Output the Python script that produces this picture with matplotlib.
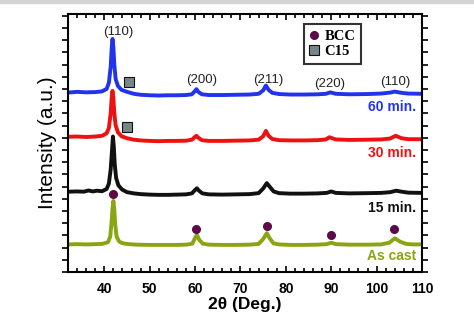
import numpy as np
import matplotlib.pyplot as plt
from matplotlib.lines import Line2D
from matplotlib.ticker import MultipleLocator

# XRD patterns (2theta in deg, intensity offset per sample, arb. units)
x_60 = [32, 34, 36, 38, 39.5, 40.5, 41.0, 41.4, 41.6, 41.8, 42.0, 42.2, 42.5, 43.0,
        43.8, 45.0, 46.5, 48, 50, 52, 54, 56, 58, 59.3, 60.0, 60.3, 60.7, 61.5,
        63, 66, 69, 72, 74, 75.0, 75.6, 76.2, 77.0, 78.5, 81, 84, 87, 88.8, 89.8,
        91, 94, 98, 101, 103, 104, 105.5, 107, 110]
y_60 = [7.35, 7.38, 7.36, 7.37, 7.40, 7.50, 7.75, 8.40, 9.10, 9.55, 9.20, 8.50, 7.90, 7.62,
        7.46, 7.38, 7.30, 7.26, 7.24, 7.23, 7.24, 7.24, 7.25, 7.28, 7.42, 7.49, 7.38, 7.28,
        7.25, 7.25, 7.26, 7.27, 7.30, 7.44, 7.64, 7.46, 7.34, 7.29, 7.27, 7.27, 7.28, 7.30, 7.36,
        7.30, 7.28, 7.29, 7.31, 7.35, 7.39, 7.34, 7.31, 7.30]

x_30 = [32, 34, 36, 38, 39.5, 40.5, 41.0, 41.4, 41.6, 41.8, 42.0, 42.2, 42.5, 43.0,
        43.8, 45.0, 46.5, 48, 50, 52, 54, 56, 58, 59.3, 60.0, 60.3, 60.7, 61.5,
        63, 66, 69, 72, 74, 75.0, 75.6, 76.2, 77.0, 78.5, 81, 84, 87, 88.8, 89.6,
        91, 94, 98, 101, 103, 104.2, 105.5, 107, 110]
y_30 = [5.54, 5.55, 5.53, 5.55, 5.58, 5.68, 5.90, 6.50, 7.10, 7.42, 7.10, 6.50, 6.00, 5.72,
        5.56, 5.48, 5.42, 5.39, 5.37, 5.36, 5.37, 5.37, 5.38, 5.42, 5.54, 5.58, 5.50, 5.40,
        5.37, 5.37, 5.38, 5.39, 5.42, 5.56, 5.78, 5.58, 5.45, 5.40, 5.39, 5.39, 5.40, 5.43, 5.52,
        5.43, 5.41, 5.42, 5.43, 5.47, 5.58, 5.48, 5.44, 5.44]

x_15 = [32, 34, 35.5, 36.5, 37.5, 38.3, 39.5, 40.5, 41.0, 41.4, 41.7, 41.9, 42.1, 42.3,
        42.6, 43.1, 43.9, 45.0, 46.5, 48, 50, 52, 54, 56, 58, 59.3, 60.0, 60.4, 60.8,
        61.6, 63, 66, 69, 72, 74, 75.0, 75.8, 76.5, 77.3, 78.5, 81, 84, 87, 89.0,
        90.0, 91, 94, 98, 101, 103, 104.3, 105.5, 107, 110]
y_15 = [3.29, 3.30, 3.29, 3.34, 3.30, 3.33, 3.31, 3.40, 3.62, 4.20, 5.00, 5.55, 5.10, 4.40,
        3.85, 3.55, 3.38, 3.27, 3.22, 3.19, 3.17, 3.16, 3.16, 3.17, 3.18, 3.22, 3.36, 3.43, 3.34,
        3.22, 3.18, 3.17, 3.18, 3.19, 3.23, 3.42, 3.64, 3.48, 3.30, 3.23, 3.21, 3.21, 3.22, 3.24,
        3.30, 3.24, 3.22, 3.23, 3.24, 3.27, 3.33, 3.29, 3.25, 3.24]

x_ac = [32, 34, 36, 38, 39.5, 40.8, 41.3, 41.6, 41.8, 42.0, 42.2, 42.4, 42.7, 43.3,
        44.2, 45.5, 47, 50, 53, 56, 58, 59.4, 60.0, 60.4, 60.9, 61.7, 63, 66, 69, 72,
        74, 75.0, 75.8, 76.5, 77.3, 78.5, 81, 84, 87, 89.0, 90.0, 91, 94, 98, 101,
        102.8, 104.0, 105.2, 106.5, 108, 110]
y_ac = [1.13, 1.14, 1.13, 1.14, 1.15, 1.22, 1.45, 2.05, 2.60, 2.91, 2.55, 1.95, 1.45, 1.24,
        1.17, 1.14, 1.12, 1.11, 1.11, 1.11, 1.12, 1.16, 1.40, 1.52, 1.32, 1.16, 1.12, 1.11, 1.11, 1.12,
        1.15, 1.35, 1.59, 1.36, 1.17, 1.13, 1.11, 1.11, 1.12, 1.14, 1.20, 1.14, 1.12, 1.12, 1.13,
        1.20, 1.38, 1.24, 1.15, 1.13, 1.13]

# phase markers
bcc_x = [42.0, 60.3, 75.8, 90.0, 103.8]
bcc_y = [3.21, 1.77, 1.89, 1.52, 1.75]
c15_x = [45.4, 44.9]
c15_y = [7.80, 5.94]

# reflections
hkl = ["(110)", "(200)", "(211)", "(220)", "(110)"]
hkl_x = [43.0, 61.5, 76.1, 89.7, 104.1]
hkl_y = [9.85, 7.85, 7.87, 7.70, 7.78]

samples = ["60 min.", "30 min.", "15 min.", "As cast"]
sample_y = [6.77, 4.89, 2.62, 0.66]
colors = ["#2233ee", "#ee1111", "#111111", "#8aa512"]

plt.rcParams["font.family"] = ["Liberation Sans", "DejaVu Sans"]

fig = plt.figure(figsize=(4.74, 3.30), dpi=100)
ax = fig.add_axes([0.1435, 0.1758, 0.7468, 0.7818])

patterns = [(x_60, y_60), (x_30, y_30), (x_15, y_15), (x_ac, y_ac)]
for (xs, ys), c in zip(patterns, colors):
    ax.plot(xs, ys, color=c, lw=2.8, solid_joinstyle="round")

ax.plot(bcc_x, bcc_y, "o", color="#5c0a48", ms=5.5, ls="none")
ax.plot(c15_x, c15_y, "s", mfc="#76878a", mec="#111111", mew=0.8, ms=6.5, ls="none")

for t, xx, yy in zip(hkl, hkl_x, hkl_y):
    ax.text(xx, yy, t, ha="center", va="center", fontsize=9.5, color="#222222")

for t, yy, c in zip(samples, sample_y, colors):
    ax.text(108.7, yy, t, ha="right", va="center", fontsize=10, fontweight="bold", color=c)

handles = [
    Line2D([], [], marker="o", ls="none", color="#5c0a48", ms=5.5),
    Line2D([], [], marker="s", ls="none", mfc="#76878a", mec="#111111", mew=0.8, ms=6.5),
]
leg = ax.legend(handles, ["BCC", "C15"], loc="upper left", bbox_to_anchor=(0.667, 0.961),
                borderaxespad=0, frameon=True, fancybox=False, handlelength=0.6,
                handletextpad=0.4, borderpad=0.4, labelspacing=0.15,
                prop={"family": "Liberation Serif", "weight": "bold", "size": 10.5})
leg.get_frame().set_edgecolor("black")
leg.get_frame().set_linewidth(1.5)

ax.set_xlim(32, 110)
ax.set_ylim(0, 10.57)
ax.xaxis.set_major_locator(MultipleLocator(10))
ax.xaxis.set_minor_locator(MultipleLocator(2))
ax.yaxis.set_major_locator(MultipleLocator(1))
ax.yaxis.set_minor_locator(MultipleLocator(0.5))
ax.set_yticklabels([])
ax.tick_params(axis="both", which="both", direction="in", top=True, right=True, width=1.2)
ax.tick_params(axis="y", which="both", left=True, direction="out", length=4.5)
ax.tick_params(axis="x", which="major", length=4.5, labelsize=10, pad=7)
ax.tick_params(axis="x", which="minor", length=3)
for lab in ax.get_xticklabels():
    lab.set_fontweight("bold")
for s in ax.spines.values():
    s.set_linewidth(1.5)

ax.set_xlabel("2θ (Deg.)", fontsize=12.5, fontweight="bold", labelpad=1)
ax.set_ylabel("Intensity (a.u.)", fontsize=15, labelpad=0)

fig.patches.append(plt.Rectangle((0, 0.99), 1, 0.01, transform=fig.transFigure,
                                 color="#d4d4d4", zorder=0))

fig.savefig("out.png", dpi=100)
